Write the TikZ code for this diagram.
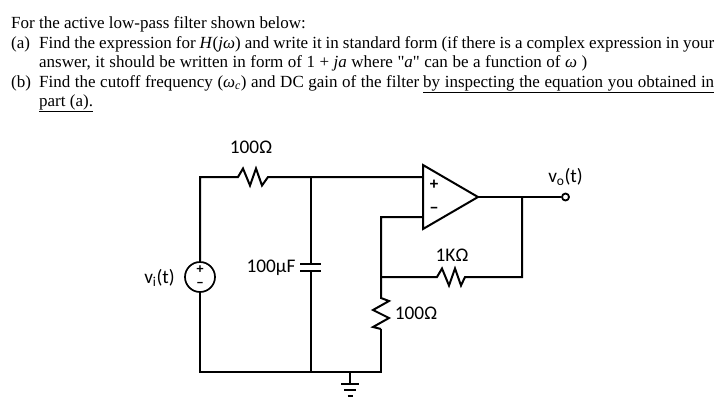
\documentclass[tikz,border=0pt]{standalone}
\usepackage{fontspec}
\setmainfont{Liberation Serif}
\newfontfamily\labelfont{Carlito}
\newfontfamily\plainfont{Liberation Serif}
\newcommand{\qmark}{{\plainfont"}}
\tikzset{
	wire/.style={line width=2pt, line join=miter},
	txt/.style={anchor=base west, inner sep=0pt, font=\fontsize{17}{19}\selectfont},
	lbl/.style={inner sep=0pt, font=\labelfont\fontsize{19.3}{22}\selectfont},
	sign/.style={inner sep=0pt, font=\labelfont\bfseries\fontsize{17}{17}\selectfont},
	srcsign/.style={inner sep=0pt, font=\labelfont\bfseries\fontsize{14}{14}\selectfont},
	hres/.style={to path={-- ++(5,-8.5) -- ++(7,17) -- ++(6,-17) -- ++(6,17) -- (\tikztotarget)}},
	vres/.style={to path={-- ++(8,3) -- ++(-16,9) -- ++(16,8) -- ++(-16,9) -- (\tikztotarget)}}
}
\begin{document}
\begin{tikzpicture}[x=1pt, y=-1pt]
	\useasboundingbox (0, 0) rectangle (728, 416);

	% question text
	\node[txt] (q0) at (11, 28) {For the active low-pass filter shown below:};
	\node[txt] (qa) at (11, 48) {(a)};
	\node[txt] (q1) at (39, 48) {\makebox[675pt][s]{Find the expression for \textit{H}(\textit{jω}) and write it in standard form (if there is a complex expression in your}};
	\node[txt] (q2) at (39, 67) {\makebox[548pt][s]{answer, it should be written in form of 1 + \textit{ja} where \qmark\textit{a}\qmark{} can be a function of \textit{ω} )}};
	\node[txt] (qb) at (11, 87) {(b)};
	\node[txt] (q3) at (39, 87) {\makebox[380pt][s]{Find the cutoff frequency (\textit{ω}\textsubscript{\textit{c}}) and DC gain of the filter}};
	\node[txt] (q3u) at (423, 87) {\underline{\makebox[291pt][s]{by inspecting the equation you obtained in}}};
	\node[txt] (q4) at (39, 106) {\underline{part (a).}};

	% corners and junctions
	\coordinate (J1) at (310.5, 177);
	\coordinate (J2) at (310.5, 372);
	\coordinate (J3) at (381, 277);
	\coordinate (BR) at (381, 372);
	\coordinate (J4) at (522, 197);
	\coordinate (G) at (350, 372);

	% parts
	\node[draw, circle, line width=1.7pt, minimum size=30pt, inner sep=0pt] (vi) at (200, 277) {};
	\node[srcsign] (vip) at (200, 270) {+};
	\node[srcsign] (vim) at (200, 285) {\textminus};
	\coordinate (R1a) at (238, 177);
	\coordinate (R1b) at (268, 177);
	\coordinate (C1a) at (310.5, 264);
	\coordinate (C1b) at (310.5, 271);
	\coordinate (R2a) at (437, 277);
	\coordinate (R2b) at (465, 277);
	\coordinate (R3a) at (381, 298);
	\coordinate (R3b) at (381, 329);
	\coordinate (Oa) at (423, 165);
	\coordinate (Ob) at (423, 229);
	\coordinate (Oc) at (478, 197);
	\coordinate (Op) at (423, 177);
	\coordinate (Om) at (423, 217);
	\draw[wire] (Oa) -- (Oc) -- (Ob) -- cycle;
	\node[sign] (opp) at (434, 185) {+};
	\node[sign] (opm) at (434, 210) {\textminus};
	\node[draw, circle, line width=1.8pt, minimum size=7pt, inner sep=0pt] (vo) at (565.5, 197) {};

	% wires
	\draw[wire] (vi.north) |- (R1a) to[hres] (R1b) -- (Op);
	\draw[wire] (vi.south) |- (BR) -- (R3b);
	\draw[wire] (Om) -| (R3a) to[vres] (R3b);
	\draw[wire] (J1) -- (C1a);
	\draw[wire] (C1b) -- (J2);
	\draw[wire] ([xshift=-10.5pt]C1a) -- ([xshift=10.5pt]C1a);
	\draw[wire] ([xshift=-10.5pt]C1b) -- ([xshift=10.5pt]C1b);
	\draw[wire] (J3) -- (R2a) to[hres] (R2b) -| (J4);
	\draw[wire] (Oc) -- (vo.west);

	% ground
	\draw[wire] (G) -- ++(0, 12) coordinate (G1);
	\draw[wire] ([xshift=-9pt]G1) -- ([xshift=9pt]G1);
	\draw[wire] ([shift={(-6pt,-6pt)}]G1) -- ([shift={(6pt,-6pt)}]G1);
	\draw[wire] ([shift={(-2.5pt,-12pt)}]G1) -- ([shift={(2.5pt,-12pt)}]G1);

	% labels
	\node[lbl] (l1) at (251, 147) {100Ω};
	\node[lbl] (l2) at (271, 268) {100µF};
	\node[lbl] (l3) at (159.5, 278) {v\textsubscript{i}(t)};
	\node[lbl] (l4) at (452, 255) {1KΩ};
	\node[lbl] (l5) at (416, 313) {100Ω};
	\node[lbl] (l6) at (565.5, 177) {v\textsubscript{o}(t)};
\end{tikzpicture}
\end{document}
